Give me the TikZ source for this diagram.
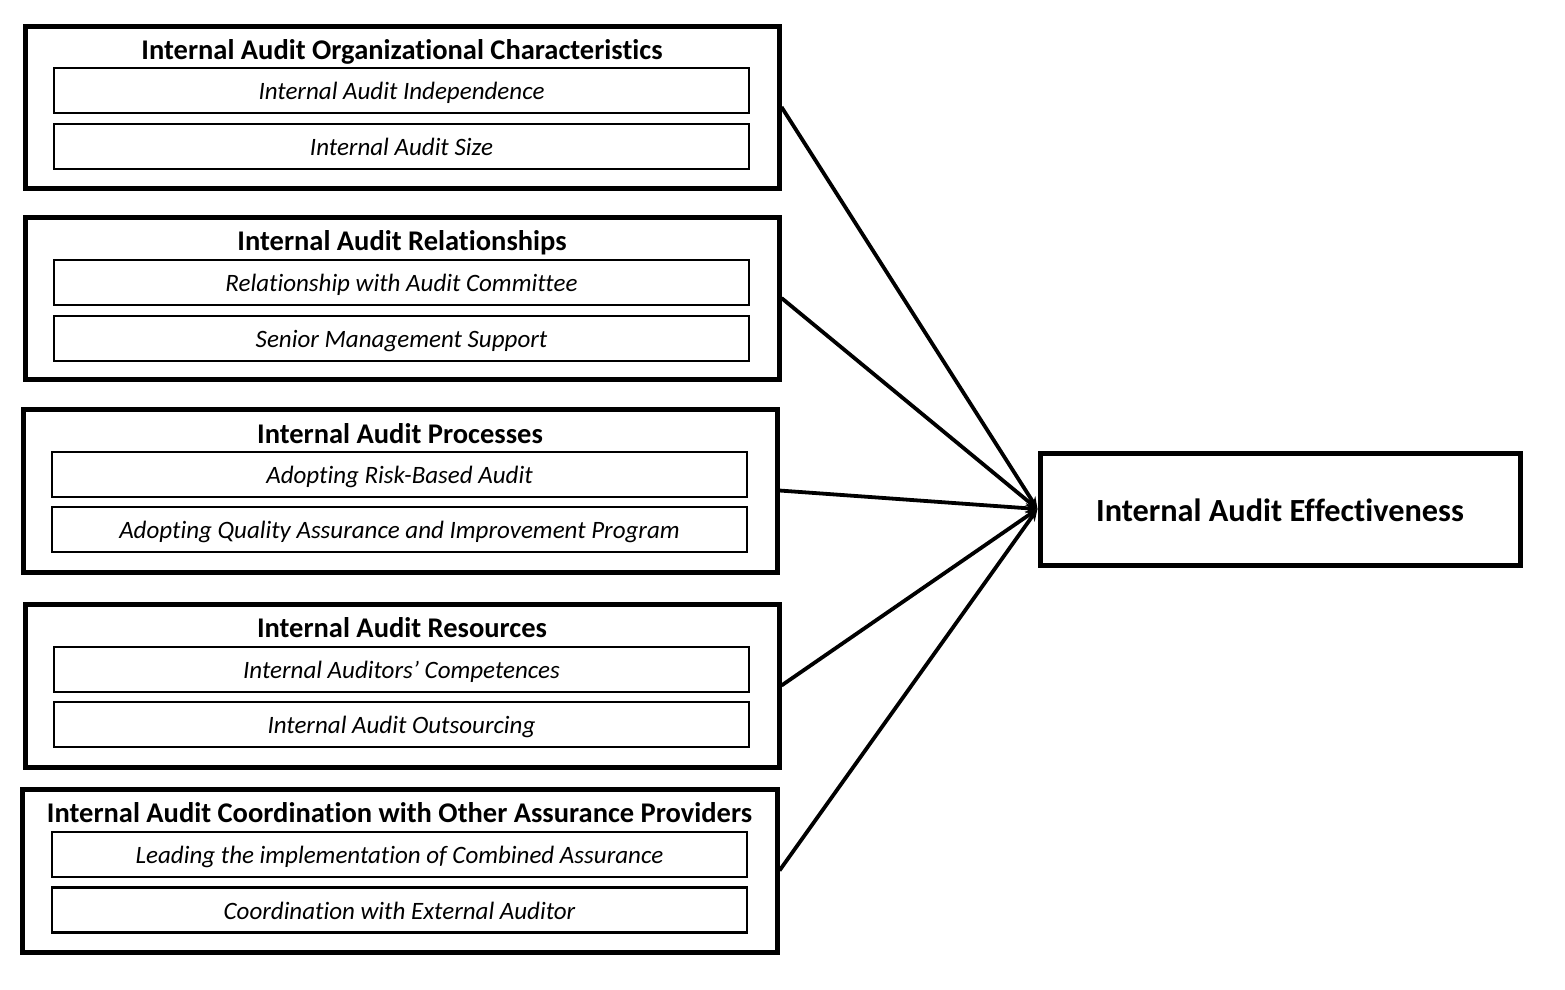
\documentclass[tikz,border=0pt]{standalone}
\usepackage{fontspec}
\setmainfont{Carlito}[Ligatures=NoCommon]
\usetikzlibrary{arrows.meta}
\tikzset{
  outerbox/.style={draw, line width=5pt, inner sep=0pt},
  innerbox/.style={draw, line width=2.8pt, inner sep=0pt, minimum width=695pt, minimum height=45pt, text height=22pt, text depth=4pt, font=\fontsize{25}{29}\selectfont\itshape},
  ttl/.style={inner sep=0pt, anchor=base, yshift=-2pt, font=\fontsize{28.5}{32}\selectfont\bfseries},
  effbox/.style={draw, line width=5pt, inner sep=0pt, minimum width=480pt, minimum height=112pt, text height=24pt, text depth=0pt, font=\fontsize{32.3}{36}\selectfont\bfseries},
  conn/.style={line width=3.8pt, -{Stealth[length=12pt,width=10pt]}},
}
\begin{document}
\begin{tikzpicture}[x=1pt,y=-1pt]
\useasboundingbox (0,0) rectangle (1565,989);
% outer boxes
\node[outerbox, minimum width=754pt, minimum height=162pt] (o1) at (402,107) {};
\node[outerbox, minimum width=754pt, minimum height=162pt] (o2) at (402,298) {};
\node[outerbox, minimum width=754pt, minimum height=163pt] (o3) at (400,490.5) {};
\node[outerbox, minimum width=754pt, minimum height=163pt] (o4) at (402,685.5) {};
\node[outerbox, minimum width=755pt, minimum height=163pt] (o5) at (399.5,870.5) {};
% titles
\node[ttl] (t1) at (402,57) {Internal Audit Organizational Characteristics};
\node[ttl] (t2) at (402,248) {Internal Audit Relationships};
\node[ttl] (t3) at (400,441) {Internal Audit Processes};
\node[ttl] (t4) at (402,635) {Internal Audit Resources};
\node[ttl] (t5) at (399.5,820) {Internal Audit Coordination with Other Assurance Providers};
% inner boxes
\node[innerbox] (a1) at (401.5,90.5) {Internal Audit Independence};
\node[innerbox] (a2) at (401.5,146.5) {Internal Audit Size};
\node[innerbox] (b1) at (401.5,282.5) {Relationship with Audit Committee};
\node[innerbox] (b2) at (401.5,338.5) {Senior Management Support};
\node[innerbox] (c1) at (399.5,474.5) {Adopting Risk-Based Audit};
\node[innerbox] (c2) at (399.5,529.5) {Adopting Quality Assurance and Improvement Program};
\node[innerbox] (d1) at (401.5,669.5) {Internal Auditors’ Competences};
\node[innerbox] (d2) at (401.5,724.5) {Internal Audit Outsourcing};
\node[innerbox] (e1) at (399.5,854.5) {Leading the implementation of Combined Assurance};
\node[innerbox] (e2) at (399.5,910) {Coordination with External Auditor};
% effectiveness
\node[effbox] (eff) at (1280,509) {Internal Audit Effectiveness};
% connectors
\draw[conn] (o1.east) -- (eff.west);
\draw[conn] (o2.east) -- (eff.west);
\draw[conn] (o3.east) -- (eff.west);
\draw[conn] (o4.east) -- (eff.west);
\draw[conn] (o5.east) -- (eff.west);
\end{tikzpicture}
\end{document}
